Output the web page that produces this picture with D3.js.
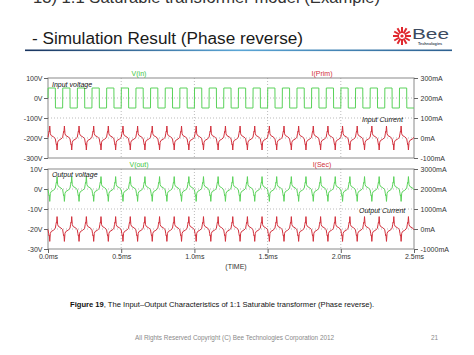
<!DOCTYPE html>
<html><head><meta charset="utf-8">
<script src="https://cdn.jsdelivr.net/npm/d3@7"></script>
<style>
html,body{margin:0;padding:0;background:#fff;}
svg{display:block;font-family:"Liberation Sans",Arial,sans-serif;}
</style></head>
<body><svg id="c" width="474" height="355"></svg>
<script>
// ---- data ----
const timeTicks = [0, 0.5, 1.0, 1.5, 2.0, 2.5];
const timeLabels = ["0.0ms", "0.5ms", "1.0ms", "1.5ms", "2.0ms", "2.5ms"];
const topLeftTicks = [100, 0, -100, -200, -300];
const topLeftLabels = ["100V", "0V", "-100V", "-200V", "-300V"];
const topRightTicks = [300, 200, 100, 0, -100];
const topRightLabels = ["300mA", "200mA", "100mA", "0mA", "-100mA"];
const botLeftTicks = [10, 0, -10, -20, -30];
const botLeftLabels = ["10V", "0V", "-10V", "-20V", "-30V"];
const botRightTicks = [3000, 2000, 1000, 0, -1000];
const botRightLabels = ["3000mA", "2000mA", "1000mA", "0mA", "-1000mA"];

const periodMs = 0.1;      // 10 kHz drive
const cycles = 25;
// input square wave, one period (phase, volts)
const vinPhase = [0, 0.01, 0.5, 0.51, 1.0];
const vinVolts = [-50, 50, 50, -50, -50];
// measured current/voltage shape, one period (phase, normalized value)
const shapePhase = [0.00, 0.04, 0.07, 0.09, 0.12, 0.16, 0.22, 0.37, 0.50, 0.54, 0.57, 0.59, 0.62, 0.66, 0.72, 0.87, 1.0];
const shapeValue = [0.05, 0.35, 0.55, 0.50, 1.00, 0.35, 0.20, 0.10, -0.05, -0.35, -0.55, -0.50, -1.00, -0.35, -0.20, -0.10, 0.05];
const iPrimPeak = 60;    // mA
const voutPeak = -6.2;   // V (phase reversed)
const iSecPeak = -620;   // mA (phase reversed)

function tile(ph, val, k) {
  const out = [];
  for (let c = 0; c < cycles; c++) {
    ph.forEach((p, i) => {
      if (c > 0 && i === 0) return;
      out.push([(c + p) * periodMs, val[i] * k]);
    });
  }
  return out;
}
const vin = [[0, 0]].concat(tile(vinPhase, vinVolts, 1).slice(1));
const iprim = tile(shapePhase, shapeValue, iPrimPeak);
const vout = tile(shapePhase, shapeValue, voutPeak);
const isec = tile(shapePhase, shapeValue, iSecPeak);

// ---- drawing ----
const svg = d3.select("#c");
const X0 = 48, X1 = 414;
const x = d3.scaleLinear().domain([0, 2.5]).range([X0, X1]);
const pTop = {y0: 78, y1: 158};
const pBot = {y0: 169, y1: 249};
const yTL = d3.scaleLinear().domain([-300, 100]).range([pTop.y1, pTop.y0]);
const yTR = d3.scaleLinear().domain([-100, 300]).range([pTop.y1, pTop.y0]);
const yBL = d3.scaleLinear().domain([-30, 10]).range([pBot.y1, pBot.y0]);
const yBR = d3.scaleLinear().domain([-1000, 3000]).range([pBot.y1, pBot.y0]);

// header
svg.append("text").attr("x", 33).attr("y", 3).attr("font-size", 16).attr("fill", "#333")
  .attr("textLength", 347).attr("lengthAdjust", "spacingAndGlyphs")
  .text("13) 1:1 Saturable transformer model (Example)");
svg.append("text").attr("x", 32).attr("y", 43.5).attr("font-size", 16).attr("fill", "#1a1a1a")
  .attr("textLength", 271).attr("lengthAdjust", "spacingAndGlyphs")
  .text("- Simulation Result (Phase reverse)");
const defs = svg.append("defs");
const g1 = defs.append("linearGradient").attr("id", "bl");
g1.append("stop").attr("offset", "0").attr("stop-color", "#18335e");
g1.append("stop").attr("offset", "0.5").attr("stop-color", "#5aa6d6");
g1.append("stop").attr("offset", "1").attr("stop-color", "#2c5f8f");
svg.append("rect").attr("x", 25).attr("y", 49.5).attr("width", 427).attr("height", 1.6).attr("fill", "url(#bl)");
// logo
const lg = svg.append("g").attr("transform", "translate(402,36)");
for (let a = 0; a < 360; a += 30) {
  const r = a * Math.PI / 180;
  lg.append("line").attr("x1", 3 * Math.cos(r)).attr("y1", 3 * Math.sin(r))
    .attr("x2", 9 * Math.cos(r)).attr("y2", 9 * Math.sin(r))
    .attr("stroke", "#e0282e").attr("stroke-width", 2);
}
lg.append("circle").attr("r", 1.6).attr("fill", "#e0282e");
svg.append("text").attr("x", 412).attr("y", 38.5).attr("font-size", 15).attr("fill", "#3c4a60")
  .attr("textLength", 37).attr("lengthAdjust", "spacingAndGlyphs").text("Bee");
svg.append("text").attr("x", 418).attr("y", 45).attr("font-size", 3.8).attr("font-weight", "bold").attr("fill", "#3c4a60").text("Technologies");

function panel(p, yL, yR, lt, ll, rt, rl) {
  const g = svg.append("g");
  const grid = g.append("g").attr("stroke", "#aaa").attr("stroke-dasharray", "1,2").attr("stroke-width", 0.8);
  lt.slice(1, -1).forEach(v => grid.append("line").attr("x1", X0).attr("x2", X1).attr("y1", yL(v)).attr("y2", yL(v)));
  timeTicks.slice(1, -1).forEach(t => grid.append("line").attr("x1", x(t)).attr("x2", x(t)).attr("y1", p.y0).attr("y2", p.y1));
  g.append("rect").attr("x", X0).attr("y", p.y0).attr("width", X1 - X0).attr("height", p.y1 - p.y0)
    .attr("fill", "none").attr("stroke", "#8a8a8a").attr("stroke-width", 1);
  const la = g.append("g").attr("transform", `translate(${X0},0)`)
    .call(d3.axisLeft(yL).tickValues(lt).tickFormat((d, i) => ll[i]).tickSize(4).tickPadding(1.5));
  const ra = g.append("g").attr("transform", `translate(${X1},0)`)
    .call(d3.axisRight(yR).tickValues(rt).tickFormat((d, i) => rl[i]).tickSize(4).tickPadding(2.5));
  [la, ra].forEach(a => {
    a.select(".domain").remove();
    a.selectAll("line").attr("stroke", "#666");
    a.selectAll("text").attr("font-size", 7).attr("fill", "#333").attr("font-family", "Liberation Sans, Arial, sans-serif");
  });
  return g;
}
panel(pTop, yTL, yTR, topLeftTicks, topLeftLabels, topRightTicks, topRightLabels);
panel(pBot, yBL, yBR, botLeftTicks, botLeftLabels, botRightTicks, botRightLabels);

const xa = svg.append("g").attr("transform", `translate(0,${pBot.y1})`)
  .call(d3.axisBottom(x).tickValues(timeTicks).tickFormat((d, i) => timeLabels[i]).tickSize(4).tickPadding(1.5));
xa.select(".domain").remove();
xa.selectAll("line").attr("stroke", "#666");
xa.selectAll("text").attr("font-size", 7).attr("fill", "#333").attr("font-family", "Liberation Sans, Arial, sans-serif");
svg.append("text").attr("x", 236).attr("y", 269).attr("text-anchor", "middle").attr("font-size", 7).attr("fill", "#333").text("(TIME)");

const GREEN = "#5ad25a", RED = "#d2303c";
function trace(data, yS, col) {
  svg.append("path").datum(data)
    .attr("d", d3.line().x(d => x(d[0])).y(d => yS(d[1])))
    .attr("fill", "none").attr("stroke", col).attr("stroke-width", 1);
}
trace(vin, yTL, GREEN);
trace(iprim, yTR, RED);
trace(vout, yBL, GREEN);
trace(isec, yBR, RED);

function lbl(t, xx, yy, col, anchor, italic) {
  svg.append("text").attr("x", xx).attr("y", yy).attr("font-size", 7).attr("fill", col)
    .attr("text-anchor", anchor || "start").attr("font-style", italic ? "italic" : "normal").text(t);
}
lbl("V(in)", 139, 75.5, "#3cc43c", "middle");
lbl("I(Prim)", 322, 75.5, "#d2303c", "middle");
lbl("V(out)", 139, 166.5, "#3cc43c", "middle");
lbl("I(Sec)", 322, 166.5, "#d2303c", "middle");
lbl("Input voltage", 52, 86.5, "#111", "start", true);
lbl("Input Current", 362, 121.5, "#111", "start", true);
lbl("Output voltage", 52, 176.5, "#111", "start", true);
lbl("Output Current", 359, 212.5, "#111", "start", true);

const cap = svg.append("text").attr("x", 70).attr("y", 306.5).attr("font-size", 7.6).attr("fill", "#111");
cap.append("tspan").attr("font-weight", "bold").text("Figure 19");
cap.append("tspan").text(", The Input\u2013Output Characteristics of 1:1 Saturable transformer (Phase reverse).");
svg.append("text").attr("x", 135).attr("y", 340).attr("font-size", 6.4).attr("fill", "#8a8a8a")
  .text("All Rights Reserved Copyright (C) Bee Technologies Corporation 2012");
svg.append("text").attr("x", 431).attr("y", 340).attr("font-size", 6.4).attr("fill", "#8a8a8a").text("21");
</script></body></html>
